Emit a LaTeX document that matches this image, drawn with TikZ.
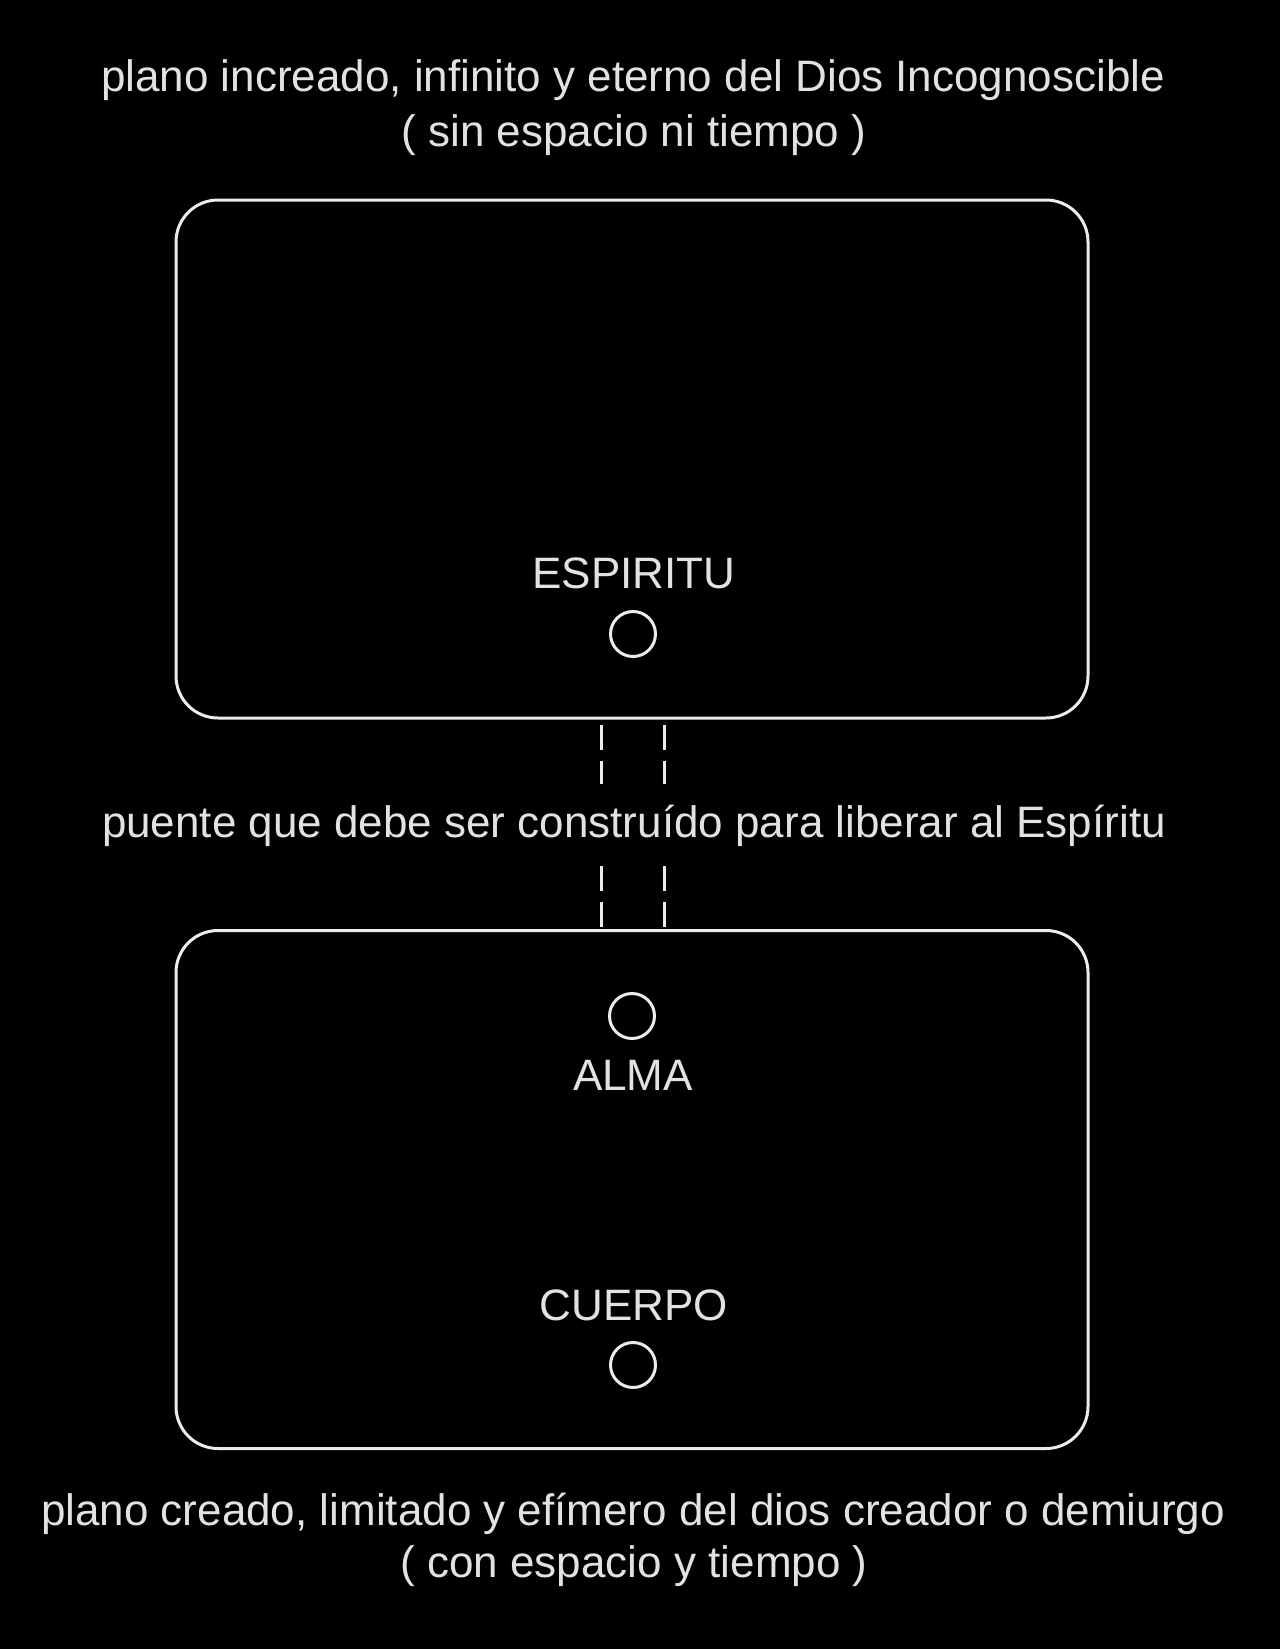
\documentclass[tikz,border=0pt]{standalone}
\usepackage{fontspec}
\setmainfont{Liberation Sans}
\definecolor{txt}{RGB}{226,226,226}
\definecolor{ln}{RGB}{236,236,236}
\begin{document}
\begin{tikzpicture}[x=1pt,y=-1pt,
  lbl/.style={text=txt, font=\fontsize{44}{50}\selectfont, inner sep=0pt, anchor=base},
  plane/.style={draw=ln, line width=3pt, rounded corners=42pt, minimum width=912pt, minimum height=518pt, inner sep=0pt},
  dot/.style={circle, draw=ln, line width=3pt, minimum size=45pt, inner sep=0pt},
  bridge/.style={draw=ln, line width=3pt, dash pattern=on 25pt off 11pt}]
\fill[black] (0,0) rectangle (1280,1649);
\useasboundingbox (0,0) rectangle (1280,1649);
% titles
\node[lbl] (t1) at (633,91) {plano increado, infinito y eterno del Dios Incognoscible};
\node[lbl] (t2) at (634,146) {( sin espacio ni tiempo )};
\node[lbl] (b1) at (633,1525) {plano creado, limitado y efímero del dios creador o demiurgo};
\node[lbl] (b2) at (634,1577) {( con espacio y tiempo )};
% planes
\node[plane] (upper) at (632,459) {};
\node[plane] (lower) at (632,1189.5) {};
% elements
\node[lbl] (esp) at (634,588) {ESPIRITU};
\node[dot] (espd) at (633,634) {};
\node[dot] (almad) at (632,1016) {};
\node[lbl] (alma) at (633,1090) {ALMA};
\node[lbl] (cuer) at (634,1320) {CUERPO};
\node[dot] (cuerd) at (633,1365) {};
% bridge label
\node[lbl] (puente) at (634,837) {puente que debe ser construído para liberar al Espíritu};
% bridge lines
\coordinate (p1a) at (601,784);
\coordinate (p2a) at (664,784);
\coordinate (p1b) at (601,866);
\coordinate (p2b) at (664,866);
\draw[bridge] (p1a |- upper.south) ++(0,5) -- (p1a);
\draw[bridge] (p2a |- upper.south) ++(0,5) -- (p2a);
\draw[bridge] (p1b) -- (p1b |- lower.north);
\draw[bridge] (p2b) -- (p2b |- lower.north);
\end{tikzpicture}
\end{document}
